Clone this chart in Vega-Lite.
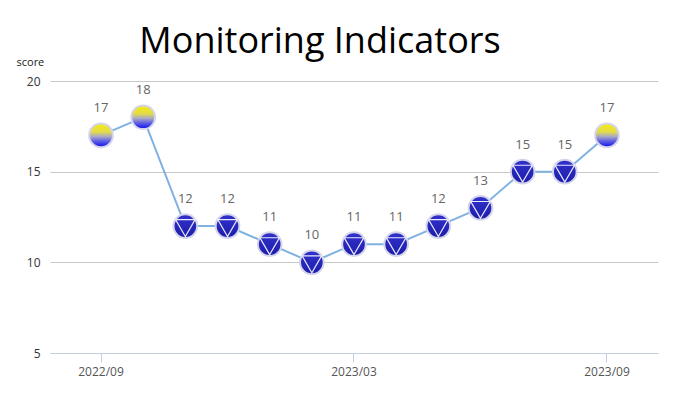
{
  "$schema": "https://vega.github.io/schema/vega-lite/v6.json",
  "autosize": {"type": "none"},
  "width": 608,
  "height": 272,
  "padding": {"left": 50, "top": 81, "right": 20, "bottom": 47},
  "background": "white",
  "config": {"font": "Open Sans", "view": {"stroke": null}},
  "title": {
    "text": "Monitoring Indicators",
    "fontSize": 36,
    "fontWeight": "normal",
    "color": "#000000",
    "anchor": "middle",
    "frame": "group",
    "dx": -34,
    "offset": -5
  },
  "data": {
    "values": [
      {"month": "2022/09", "value": 17, "type": "up"},
      {"month": "2022/10", "value": 18, "type": "up"},
      {"month": "2022/11", "value": 12, "type": "down"},
      {"month": "2022/12", "value": 12, "type": "down"},
      {"month": "2023/01", "value": 11, "type": "down"},
      {"month": "2023/02", "value": 10, "type": "down"},
      {"month": "2023/03", "value": 11, "type": "down"},
      {"month": "2023/04", "value": 11, "type": "down"},
      {"month": "2023/05", "value": 12, "type": "down"},
      {"month": "2023/06", "value": 13, "type": "down"},
      {"month": "2023/07", "value": 15, "type": "down"},
      {"month": "2023/08", "value": 15, "type": "down"},
      {"month": "2023/09", "value": 17, "type": "up"}
    ]
  },
  "encoding": {
    "x": {
      "field": "month",
      "type": "ordinal",
      "scale": {"type": "band", "paddingInner": 0, "paddingOuter": 0.71},
      "axis": {
        "title": null,
        "values": ["2022/09", "2023/03", "2023/09"],
        "bandPosition": 0.5,
        "labelAngle": 0,
        "labelFontSize": 12,
        "labelColor": "#555555",
        "labelPadding": 4,
        "domainColor": "#c0d0e0",
        "domainWidth": 1,
        "tickColor": "#c0d0e0",
        "tickSize": 9,
        "grid": false
      }
    },
    "y": {
      "field": "value",
      "type": "quantitative",
      "scale": {"domain": [5, 20], "nice": false, "zero": false},
      "axis": {
        "title": "score",
        "titleAngle": 0,
        "titleAlign": "left",
        "titleBaseline": "middle",
        "titleX": -34,
        "titleY": -19,
        "titleFontSize": 11,
        "titleFontWeight": "normal",
        "titleColor": "#222222",
        "values": [5, 10, 15, 20],
        "labelFontSize": 12,
        "labelColor": "#333333",
        "labelPadding": 10,
        "domain": false,
        "ticks": false,
        "grid": true,
        "gridColor": "#c8c8c8",
        "gridWidth": 1
      }
    }
  },
  "layer": [
    {
      "mark": {"type": "line", "color": "#7fb2e0", "strokeWidth": 2}
    },
    {
      "transform": [{"filter": "datum.type === 'up'"}],
      "mark": {
        "type": "point",
        "shape": "circle",
        "filled": true,
        "opacity": 1,
        "size": 560,
        "stroke": "#d4d4ea",
        "strokeWidth": 2,
        "fill": {
          "gradient": "linear",
          "x1": 0, "y1": 0, "x2": 0, "y2": 1,
          "stops": [
            {"offset": 0, "color": "#f4ec10"},
            {"offset": 0.35, "color": "#e4dc48"},
            {"offset": 0.55, "color": "#a8a8c8"},
            {"offset": 0.75, "color": "#5c5ce4"},
            {"offset": 1, "color": "#0c0cec"}
          ]
        }
      }
    },
    {
      "transform": [{"filter": "datum.type === 'down'"}],
      "mark": {
        "type": "point",
        "shape": "circle",
        "filled": true,
        "opacity": 1,
        "size": 560,
        "stroke": "#d4d4ea",
        "strokeWidth": 2,
        "fill": {
          "gradient": "linear",
          "x1": 0, "y1": 0, "x2": 0, "y2": 1,
          "stops": [
            {"offset": 0, "color": "#3232cc"},
            {"offset": 1, "color": "#1c1caa"}
          ]
        }
      }
    },
    {
      "transform": [{"filter": "datum.type === 'down'"}],
      "mark": {
        "type": "point",
        "shape": "triangle-down",
        "filled": false,
        "opacity": 1,
        "size": 380,
        "stroke": "#e8e8ff",
        "strokeWidth": 1.2,
        "yOffset": 2
      }
    },
    {
      "mark": {
        "type": "text",
        "dy": -27,
        "fontSize": 13,
        "color": "#666666",
        "baseline": "middle"
      },
      "encoding": {"text": {"field": "value", "type": "quantitative"}}
    }
  ]
}
